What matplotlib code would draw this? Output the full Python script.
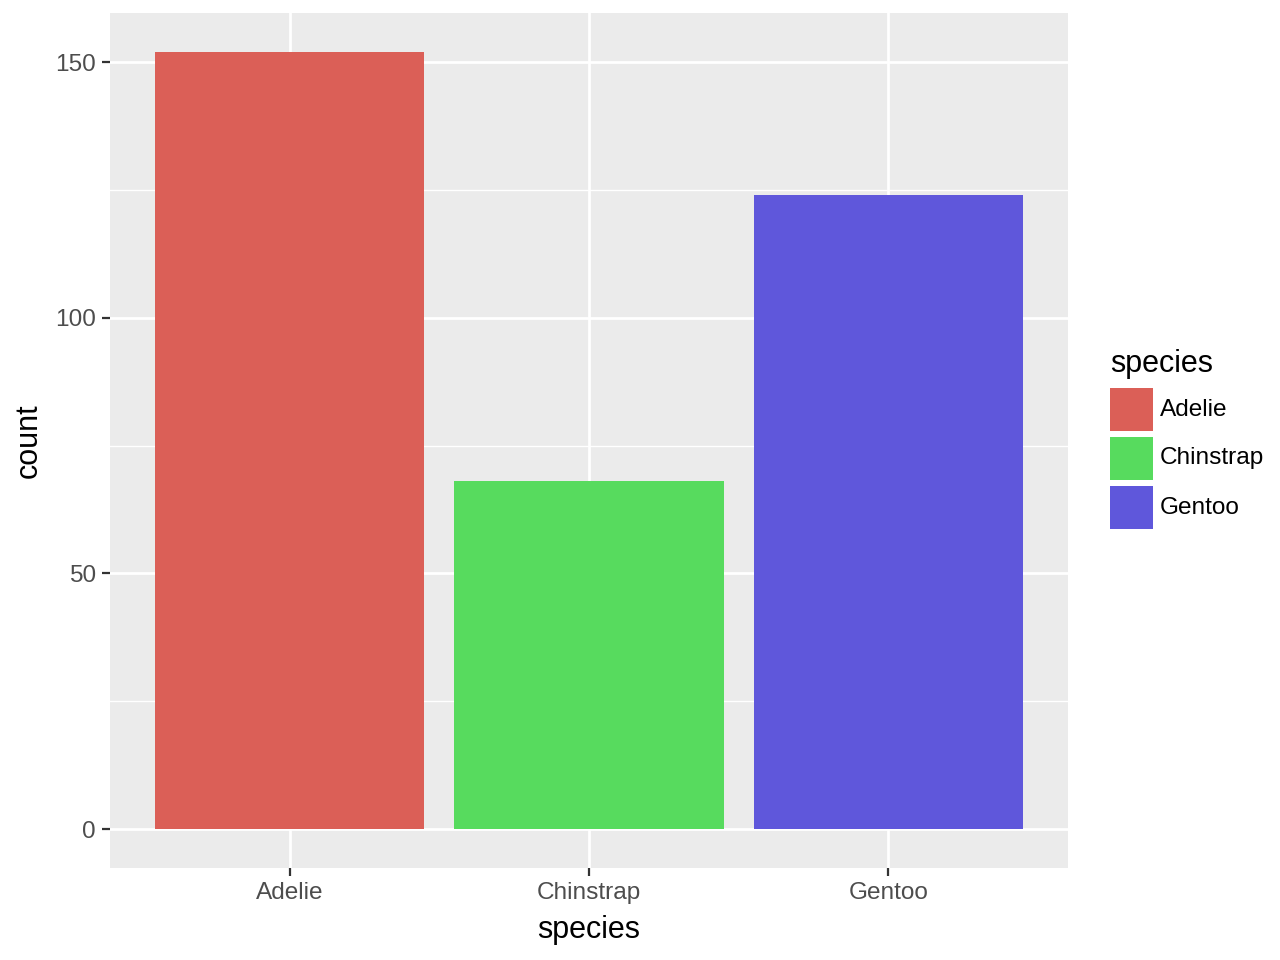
import matplotlib
matplotlib.use("Agg")
import matplotlib.pyplot as plt
from matplotlib.patches import Rectangle

species = ["Adelie", "Chinstrap", "Gentoo"]
counts = [152, 68, 124]
colors = ["#DB5F57", "#57DB5E", "#5F57DB"]
yticks = [0, 50, 100, 150]
yminor = [25, 75, 125]

plt.rcParams['font.family'] = ['Liberation Sans', 'DejaVu Sans']
fig = plt.figure(figsize=(6.4, 4.8), dpi=200)
ax = fig.add_axes([110/1280, 1-868/960, (1068-110)/1280, (868-13)/960])
ax.set_facecolor("#EBEBEB")
x = list(range(1, len(species)+1))
ax.bar(x, counts, width=0.9, color=colors, zorder=3)
ax.set_xlim(0.4, 3.6)
ax.set_ylim(-7.6, 159.6)
ax.set_xticks(x, species)
ax.set_yticks(yticks)
ax.set_yticks(yminor, minor=True)
ax.grid(True, which="major", color="white", lw=1.0, zorder=1)
ax.grid(True, which="minor", axis="y", color="white", lw=0.5, zorder=1)
ax.set_axisbelow(True)
for s in ax.spines.values():
    s.set_visible(False)
ax.tick_params(which="major", length=3, width=0.8, color="#333333", labelcolor="#4D4D4D", labelsize=8.8, pad=2)
ax.tick_params(which="minor", length=0)
ax.set_xlabel("species", fontsize=11, labelpad=4)
ax.set_ylabel("count", fontsize=11, labelpad=4)

fig.text(1110/1280, 1-364/960, "species", fontsize=11, va="center", ha="left")
tops = [388, 437, 486]
for t, c, s in zip(tops, colors, species):
    fig.patches.append(Rectangle((1110/1280, 1-(t+43)/960), 43/1280, 43/960,
                                 transform=fig.transFigure, facecolor=c, edgecolor="none"))
    fig.text(1160/1280, 1-(t+21.5)/960, s, fontsize=8.8, va="center", ha="left")

fig.savefig("out.png", dpi=200)
